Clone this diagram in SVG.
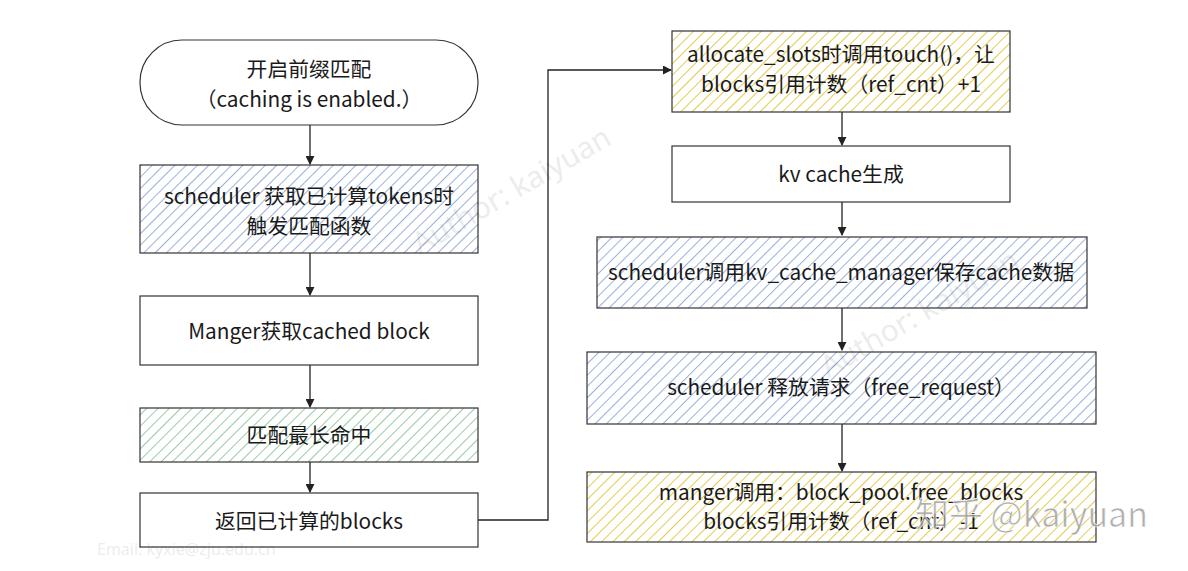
<svg xmlns="http://www.w3.org/2000/svg" width="1188" height="571" viewBox="0 0 1188 571">
<defs>
<style>
.bx{stroke:#333;stroke-width:1.2}
.w{fill:#fff}
.t{font-family:"Noto Sans CJK SC","Microsoft YaHei",sans-serif;font-size:20.8px;fill:#1a1a1a;text-anchor:middle}
.c{stroke:#222;stroke-width:1.3;fill:none}
.wm{font-family:"Noto Sans","Liberation Sans",sans-serif;fill:#000;opacity:0.07}
.zh{font-family:"Noto Sans CJK SC","Noto Sans",sans-serif;font-size:34px;fill:#999;fill-opacity:0.8;stroke:#fff;stroke-width:0.6}
</style>
<pattern id="hb" patternUnits="userSpaceOnUse" width="8" height="8" patternTransform="rotate(45)"><rect width="8" height="8" fill="#fff"/><line x1="0" y1="0" x2="0" y2="8" stroke="#8ea8d8" stroke-width="1.8"/></pattern>
<pattern id="hg" patternUnits="userSpaceOnUse" width="8" height="8" patternTransform="rotate(45)"><rect width="8" height="8" fill="#fff"/><line x1="0" y1="0" x2="0" y2="8" stroke="#8dc79c" stroke-width="1.8"/></pattern>
<pattern id="hy" patternUnits="userSpaceOnUse" width="8" height="8" patternTransform="rotate(45)"><rect width="8" height="8" fill="#fff"/><line x1="0" y1="0" x2="0" y2="8" stroke="#e2c53c" stroke-width="1.8"/></pattern>
<marker id="ah" viewBox="0 0 10 10" refX="9" refY="5" markerWidth="9" markerHeight="9" markerUnits="userSpaceOnUse" orient="auto"><path d="M0,0 L10,5 L0,10 Z" fill="#222"/></marker>
</defs>
<rect width="1188" height="571" fill="#fff"/>

<g id="connectors">
<line class="c" x1="310" y1="125" x2="310" y2="164" marker-end="url(#ah)"/>
<line class="c" x1="310" y1="253" x2="310" y2="295" marker-end="url(#ah)"/>
<line class="c" x1="310" y1="365" x2="310" y2="407" marker-end="url(#ah)"/>
<line class="c" x1="310" y1="462" x2="310" y2="492" marker-end="url(#ah)"/>
<polyline class="c" points="478,520 548,520 548,70 671,70" marker-end="url(#ah)"/>
<line class="c" x1="842" y1="112" x2="842" y2="145" marker-end="url(#ah)"/>
<line class="c" x1="842" y1="202" x2="842" y2="235" marker-end="url(#ah)"/>
<line class="c" x1="842" y1="308" x2="842" y2="350" marker-end="url(#ah)"/>
<line class="c" x1="842" y1="424" x2="842" y2="471" marker-end="url(#ah)"/>
</g>

<g id="n1"><rect class="bx w" x="140" y="40" width="338" height="85" rx="42" ry="42"/><text class="t" x="309" y="77">开启前缀匹配</text><text class="t" x="309" y="107">（caching is enabled.）</text></g>
<g id="n2"><rect class="bx" fill="url(#hb)" x="140" y="165" width="338" height="88"/><text class="t" x="309" y="204">scheduler 获取已计算tokens时</text><text class="t" x="309" y="234">触发匹配函数</text></g>
<g id="n3"><rect class="bx w" x="140" y="296" width="338" height="69"/><text class="t" x="309" y="339">Manger获取cached block</text></g>
<g id="n4"><rect class="bx" fill="url(#hg)" x="140" y="408" width="338" height="54"/><text class="t" x="309" y="443">匹配最长命中</text></g>
<g id="n5"><rect class="bx w" x="140" y="493" width="338" height="54"/><text class="t" x="309" y="529">返回已计算的blocks</text></g>

<g id="n6"><rect class="bx" fill="url(#hy)" x="672" y="31" width="338" height="81"/><text class="t" x="841" y="62">allocate_slots时调用touch()，让</text><text class="t" x="841" y="92">blocks引用计数（ref_cnt）+1</text></g>
<g id="n7"><rect class="bx w" x="672" y="146" width="338" height="56"/><text class="t" x="841" y="182">kv cache生成</text></g>
<g id="n8"><rect class="bx" fill="url(#hb)" x="597" y="237" width="490" height="71"/><text class="t" x="841" y="280">scheduler调用kv_cache_manager保存cache数据</text></g>
<g id="n9"><rect class="bx" fill="url(#hb)" x="587" y="352" width="509" height="72"/><text class="t" x="841" y="395">scheduler 释放请求（free_request）</text></g>
<g id="n10"><rect class="bx" fill="url(#hy)" x="587" y="472" width="509" height="70"/><text class="t" x="841" y="500">manger调用：block_pool.free_blocks</text><text class="t" x="841" y="529">blocks引用计数（ref_cnt）-1</text></g>

<g id="watermarks">
<text class="wm" font-size="30" transform="translate(420,255) rotate(-30)">Author:  kaiyuan</text>
<text class="wm" font-size="30" transform="translate(828,378) rotate(-30)">Author:  kaiyuan</text>
<text class="wm" font-size="16" x="97" y="555" opacity="0.12">Email:  kyxie@zju.edu.cn</text>
<text class="zh" x="915" y="527">知乎 @kaiyuan</text>
</g>
</svg>
